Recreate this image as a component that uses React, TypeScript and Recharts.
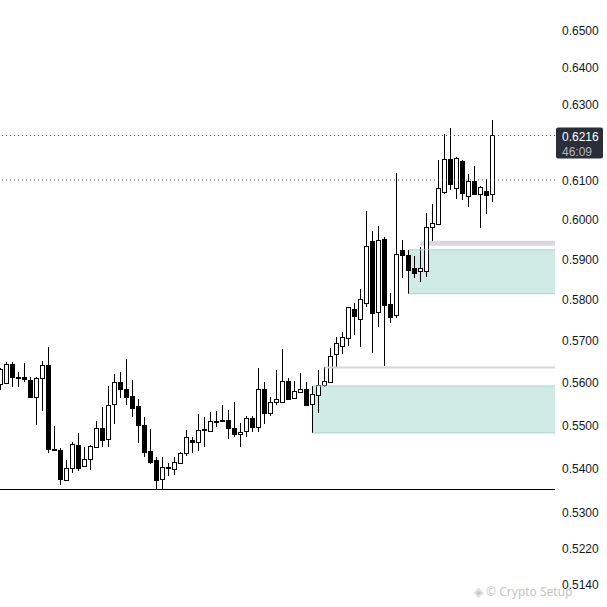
import React from 'react';
import { ComposedChart, Bar, XAxis, YAxis, ReferenceLine, ReferenceArea } from 'recharts';

// OHLC, one entry per candle, oldest first
const opens = [
  0.5594, 0.5596, 0.5642, 0.5612, 0.5612, 0.5604, 0.5565, 0.5608, 0.5640, 0.5443,
  0.5440, 0.5372, 0.5400, 0.5452, 0.5403, 0.5419, 0.5448, 0.5491, 0.5465, 0.5548,
  0.5599, 0.5584, 0.5566, 0.5543, 0.5498, 0.5438, 0.5417, 0.5373, 0.5401, 0.5396,
  0.5410, 0.5433, 0.5464, 0.5458, 0.5487, 0.5484, 0.5507, 0.5510, 0.5510, 0.5491,
  0.5477, 0.5484, 0.5514, 0.5494, 0.5582, 0.5526, 0.5552, 0.5552, 0.5603, 0.5561,
  0.5576, 0.5582, 0.5547, 0.5569, 0.5592, 0.5600, 0.5666, 0.5686, 0.5704, 0.5775,
  0.5750, 0.5791, 0.5944, 0.5767, 0.5949, 0.5788, 0.5760, 0.5922, 0.5909, 0.5877,
  0.5870, 0.5870, 0.5979, 0.5987, 0.6070, 0.6154, 0.6079, 0.6150, 0.6059, 0.6098,
  0.6063, 0.6072, 0.6064,
];
const highs = [
  0.5632, 0.5646, 0.5647, 0.5624, 0.5644, 0.5611, 0.5612, 0.5650, 0.5684, 0.5496,
  0.5444, 0.5417, 0.5458, 0.5479, 0.5448, 0.5451, 0.5508, 0.5541, 0.5590, 0.5618,
  0.5623, 0.5654, 0.5604, 0.5559, 0.5516, 0.5488, 0.5424, 0.5424, 0.5411, 0.5424,
  0.5436, 0.5487, 0.5471, 0.5524, 0.5518, 0.5529, 0.5531, 0.5545, 0.5534, 0.5552,
  0.5502, 0.5519, 0.5519, 0.5632, 0.5599, 0.5565, 0.5628, 0.5678, 0.5608, 0.5602,
  0.5621, 0.5599, 0.5590, 0.5628, 0.5634, 0.5680, 0.5708, 0.5720, 0.5781, 0.5791,
  0.5824, 0.6021, 0.5969, 0.5982, 0.5953, 0.5815, 0.6118, 0.5947, 0.5922, 0.5907,
  0.5929, 0.6016, 0.6038, 0.6152, 0.6220, 0.6235, 0.6160, 0.6152, 0.6115, 0.6137,
  0.6085, 0.6102, 0.6257,
];
const lows = [
  0.5580, 0.5594, 0.5588, 0.5588, 0.5600, 0.5563, 0.5498, 0.5531, 0.5434, 0.5438,
  0.5360, 0.5370, 0.5388, 0.5392, 0.5402, 0.5394, 0.5444, 0.5448, 0.5447, 0.5500,
  0.5562, 0.5544, 0.5518, 0.5457, 0.5425, 0.5408, 0.5349, 0.5349, 0.5381, 0.5383,
  0.5408, 0.5427, 0.5433, 0.5438, 0.5448, 0.5483, 0.5494, 0.5507, 0.5465, 0.5471,
  0.5447, 0.5470, 0.5483, 0.5481, 0.5500, 0.5519, 0.5545, 0.5549, 0.5557, 0.5559,
  0.5573, 0.5543, 0.5480, 0.5526, 0.5587, 0.5598, 0.5636, 0.5666, 0.5686, 0.5712,
  0.5682, 0.5781, 0.5668, 0.5732, 0.5638, 0.5741, 0.5753, 0.5851, 0.5813, 0.5851,
  0.5843, 0.5855, 0.5945, 0.5985, 0.6064, 0.6074, 0.6051, 0.6049, 0.6030, 0.6062,
  0.5977, 0.6012, 0.6042,
];
const closes = [
  0.5630, 0.5642, 0.5611, 0.5611, 0.5607, 0.5565, 0.5608, 0.5640, 0.5442, 0.5440,
  0.5373, 0.5400, 0.5454, 0.5400, 0.5419, 0.5450, 0.5491, 0.5464, 0.5545, 0.5599,
  0.5584, 0.5565, 0.5539, 0.5498, 0.5436, 0.5413, 0.5372, 0.5402, 0.5402, 0.5412,
  0.5433, 0.5470, 0.5458, 0.5487, 0.5488, 0.5507, 0.5508, 0.5508, 0.5492, 0.5477,
  0.5481, 0.5514, 0.5494, 0.5582, 0.5526, 0.5552, 0.5560, 0.5603, 0.5559, 0.5577,
  0.5582, 0.5544, 0.5570, 0.5592, 0.5603, 0.5662, 0.5692, 0.5707, 0.5780, 0.5758,
  0.5799, 0.5932, 0.5765, 0.5947, 0.5785, 0.5757, 0.5911, 0.5910, 0.5872, 0.5865,
  0.5876, 0.5979, 0.5989, 0.6079, 0.6154, 0.6090, 0.6156, 0.6066, 0.6098, 0.6064,
  0.6083, 0.6061, 0.6216,
];

const priceTicks = [0.514, 0.522, 0.53, 0.54, 0.55, 0.56, 0.57, 0.58, 0.59, 0.6, 0.61, 0.6216, 0.63, 0.64, 0.65];
const lastPrice = 0.6216;
const countdown = '46:09';

// levels drawn on the chart
const supportLevel = 0.5349;
const dottedLevel = 0.61;
const lowerZone = { from: 52, bottom: 0.548, top: 0.559 };
const lowerZoneCap = { from: 54, price: 0.5634 };
const upperZone = { from: 68, bottom: 0.5813, top: 0.5922 };
const upperZoneCap = { from: 70, bottom: 0.5932, top: 0.5945 };

const data = opens.map((o, i) => ({
  i,
  open: o,
  high: highs[i],
  low: lows[i],
  close: closes[i],
  range: [lows[i], highs[i]],
}));

const X_MIN = -0.5 / 6;
const X_MAX = X_MIN + 555 / 6;
const FONT = 'Liberation Sans, Arial, sans-serif';

const Candle = (props: any) => {
  const { x, y, width, height, payload } = props;
  if (!payload) return null;
  const { open, close, high, low } = payload;
  const top = Math.min(y, y + height);
  const h = Math.abs(height);
  const span = Math.log(high) - Math.log(low);
  const py = (v: number) => top + (span ? ((Math.log(high) - Math.log(v)) / span) * h : 0);
  const cx = Math.floor(x + width / 2) + 0.5;
  const up = close >= open;
  const bTop = Math.round(py(Math.max(open, close)));
  const bBot = Math.round(py(Math.min(open, close)));
  const bh = Math.max(bBot - bTop, 1);
  return (
    <g>
      <line x1={cx} x2={cx} y1={Math.round(top)} y2={Math.round(top + h)} stroke="#000" strokeWidth={1} />
      <rect
        x={cx - 2}
        y={bTop + 0.5}
        width={4}
        height={bh}
        fill={up ? '#fff' : '#000'}
        stroke="#000"
        strokeWidth={1}
      />
    </g>
  );
};

const PriceTick = (props: any) => {
  const { x, y, payload } = props;
  const v = payload.value;
  if (Math.abs(v - lastPrice) < 1e-6) {
    return (
      <g>
        <rect x={x - 7} y={y - 8} width={47} height={31} rx={2} fill="#2a2e39" />
        <text x={x - 1} y={y + 1} dy="0.36em" fill="#fff" fontSize={12} fontFamily={FONT}>
          {v.toFixed(4)}
        </text>
        <text x={x - 1} y={y + 16} dy="0.36em" fill="#b2b5be" fontSize={12} fontFamily={FONT}>
          {countdown}
        </text>
      </g>
    );
  }
  return (
    <text x={x - 1} y={y + 1} dy="0.36em" fill="#131722" fontSize={12} fontFamily={FONT}>
      {v.toFixed(4)}
    </text>
  );
};

export default function App() {
  return (
    <div style={{ position: 'absolute', left: 0, top: 0, width: 607, height: 607, background: '#fff' }}>
      <ComposedChart width={607} height={607} data={data} margin={{ top: 0, right: 0, bottom: 0, left: 0 }}>
        <XAxis type="number" dataKey="i" domain={[X_MIN, X_MAX]} allowDataOverflow hide />
        <YAxis
          orientation="right"
          scale="log"
          domain={[0.50903, 0.65832]}
          allowDataOverflow
          ticks={priceTicks}
          interval={0}
          width={52}
          axisLine={false}
          tickLine={false}
          tick={<PriceTick />}
        />
        <ReferenceArea x1={lowerZone.from} x2={X_MAX} y1={lowerZone.bottom} y2={lowerZone.top} fill="#d0ebe5" fillOpacity={1} stroke="none" />
        <ReferenceLine segment={[{ x: lowerZone.from, y: lowerZone.top }, { x: X_MAX, y: lowerZone.top }]} stroke="#a6d8cb" />
        <ReferenceLine segment={[{ x: lowerZone.from, y: lowerZone.bottom }, { x: X_MAX, y: lowerZone.bottom }]} stroke="#a6d8cb" />
        <ReferenceLine segment={[{ x: lowerZoneCap.from, y: lowerZoneCap.price }, { x: X_MAX, y: lowerZoneCap.price }]} stroke="#d6d4da" strokeWidth={2} />
        <ReferenceArea x1={upperZone.from} x2={X_MAX} y1={upperZone.bottom} y2={upperZone.top} fill="#d0ebe5" fillOpacity={1} stroke="none" />
        <ReferenceLine segment={[{ x: upperZone.from, y: upperZone.top }, { x: X_MAX, y: upperZone.top }]} stroke="#a6d8cb" />
        <ReferenceLine segment={[{ x: upperZone.from, y: upperZone.bottom }, { x: X_MAX, y: upperZone.bottom }]} stroke="#a6d8cb" />
        <ReferenceArea x1={upperZoneCap.from} x2={X_MAX} y1={upperZoneCap.bottom} y2={upperZoneCap.top} fill="#dad7dd" fillOpacity={1} stroke="none" />
        <ReferenceLine y={supportLevel} stroke="#000" strokeWidth={1} shapeRendering="crispEdges" />
        <ReferenceLine y={lastPrice} stroke="#444" strokeDasharray="1 3" />
        <ReferenceLine y={dottedLevel} stroke="#444" strokeDasharray="1 3" />
        <Bar dataKey="range" barSize={5} shape={<Candle />} isAnimationActive={false} />
      </ComposedChart>
      <div
        style={{
          position: 'absolute',
          left: 474,
          top: 583,
          fontSize: 12,
          color: '#c6c6c6',
          fontFamily: 'Noto Sans, sans-serif',
          whiteSpace: 'nowrap',
        }}
      >
        ◈ © Crypto Setup
      </div>
    </div>
  );
}
